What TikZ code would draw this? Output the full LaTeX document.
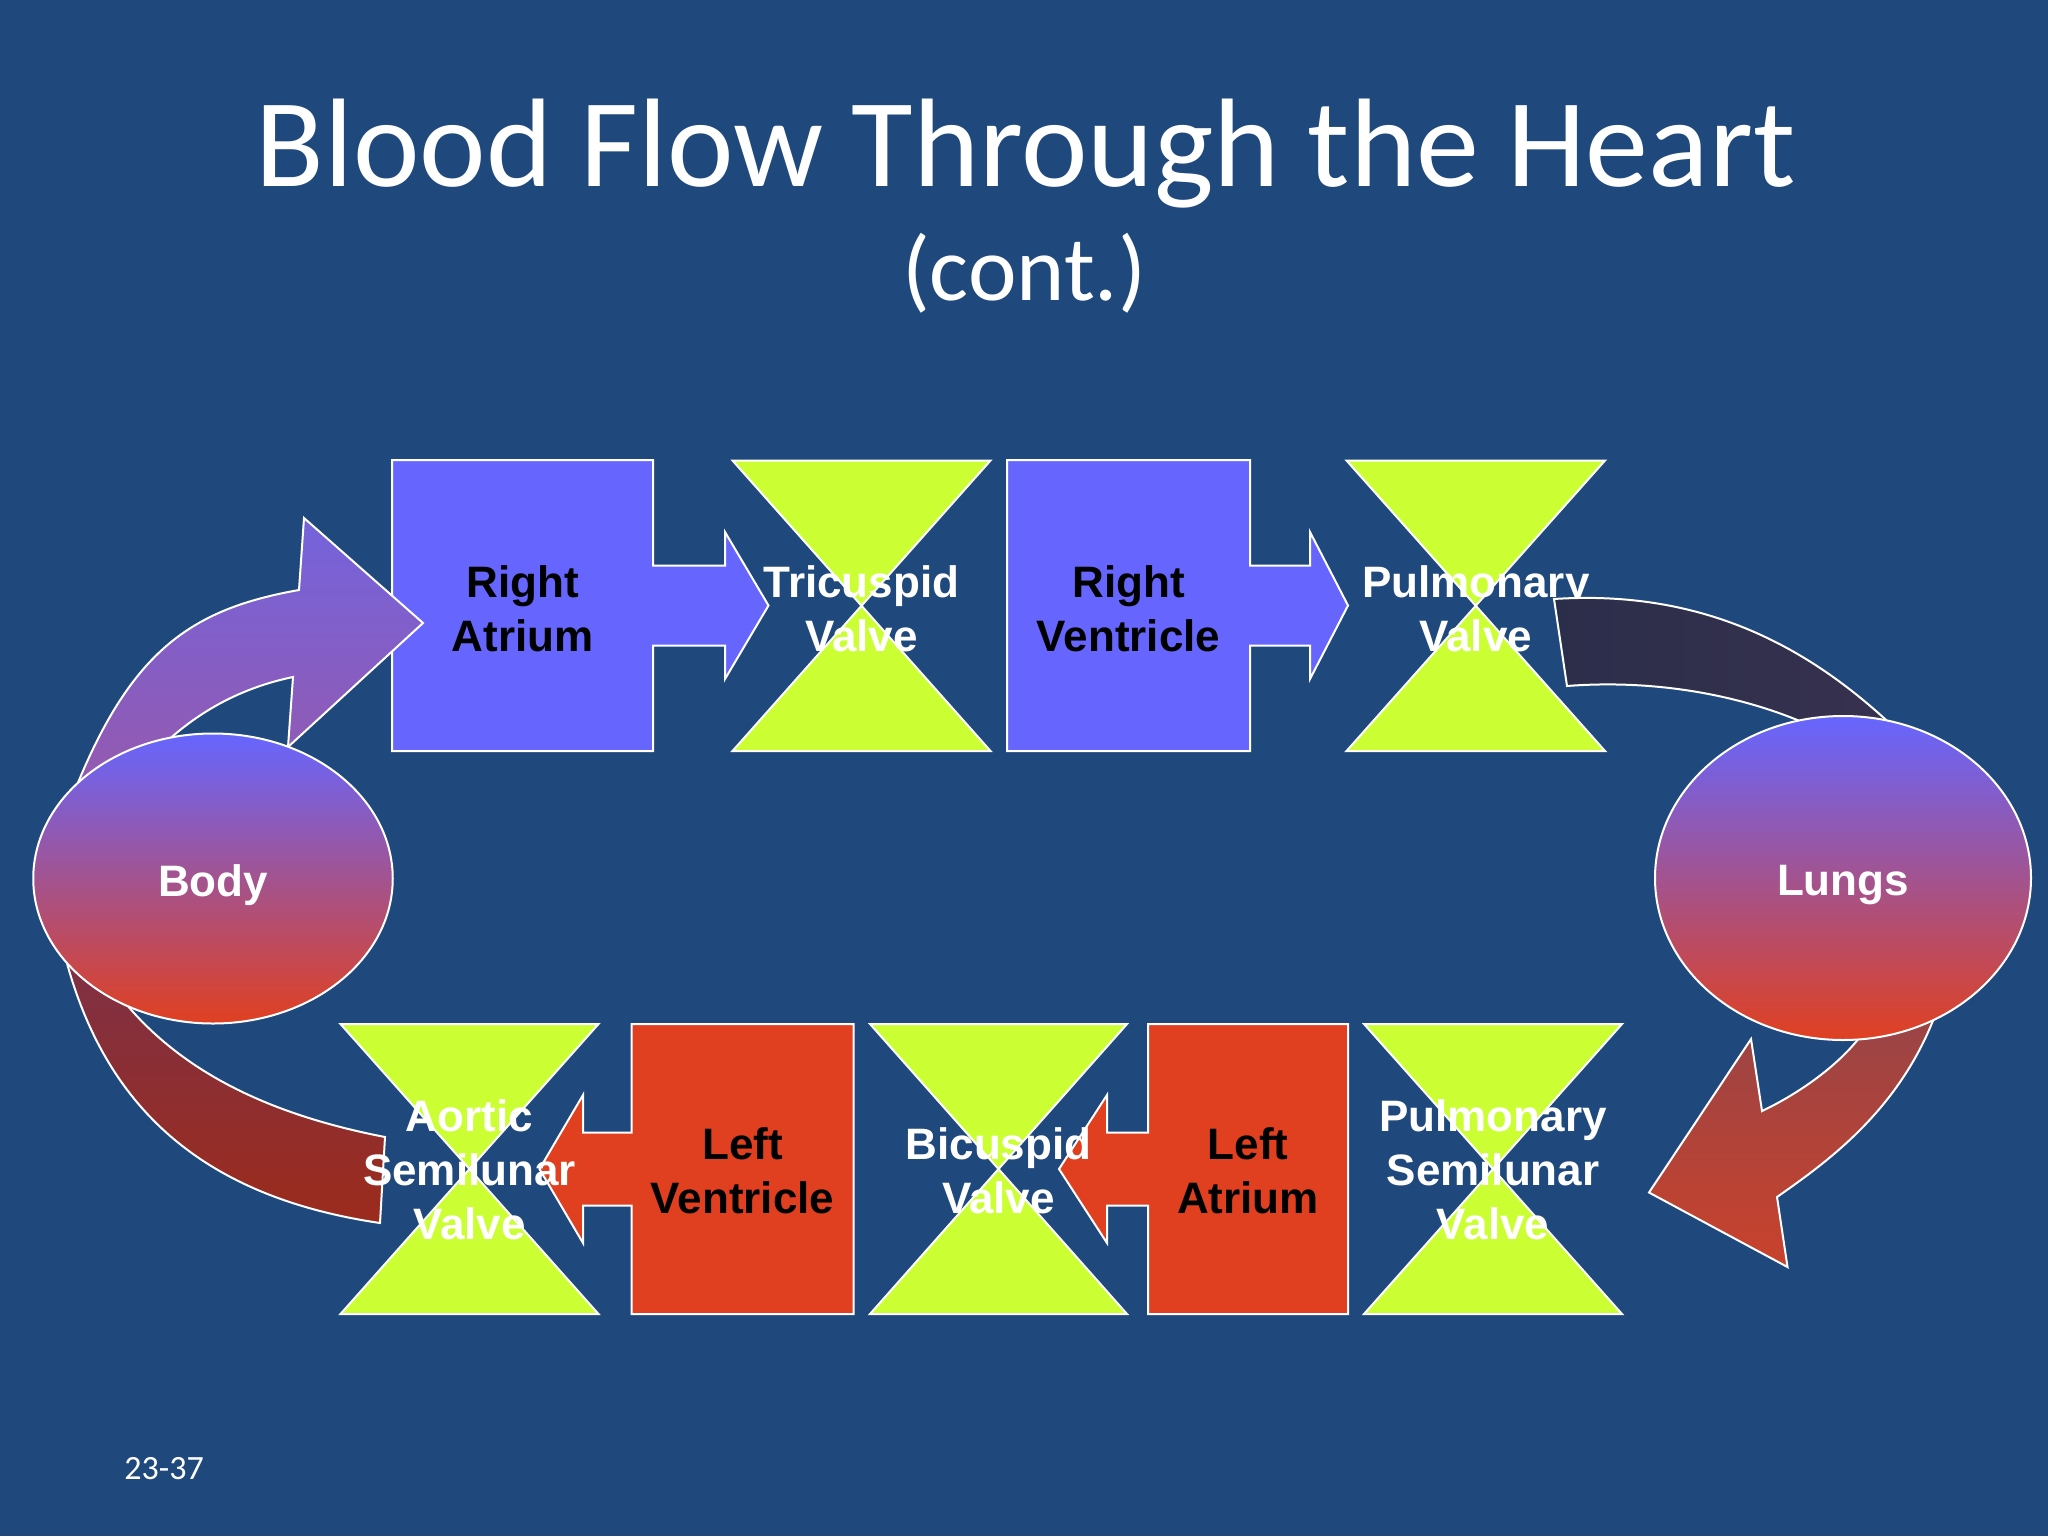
\documentclass[tikz,border=0pt]{standalone}
\usepackage{fontspec}
\setmainfont{Liberation Sans}
\newfontfamily\calibrifont{Carlito}
\usetikzlibrary{shapes.geometric}
\definecolor{bgblue}{HTML}{1F497D}
\definecolor{boxblue}{HTML}{6666FF}
\definecolor{boxred}{HTML}{E04020}
\definecolor{valvegreen}{HTML}{CCFF33}
\definecolor{ovaltop}{HTML}{6666FF}
\definecolor{ovalbot}{HTML}{E04020}
\definecolor{arrAtop}{HTML}{7463DC}
\definecolor{arrAbot}{HTML}{9559AE}
\definecolor{darkL}{HTML}{2B2E4A}
\definecolor{darkR}{HTML}{37314F}
\definecolor{redtop}{HTML}{984447}
\definecolor{redbot}{HTML}{C9422C}
\definecolor{marotop}{HTML}{7C3149}
\definecolor{marobot}{HTML}{9C2B1C}
\newcommand\myLblFont{\fontsize{22pt}{27pt}\selectfont\bfseries}
\newcommand\twoL[2]{\begin{tabular}[t]{@{}c@{}}#1\\#2\end{tabular}}
\newcommand\threeL[3]{\begin{tabular}[t]{@{}c@{}}#1\\#2\\#3\end{tabular}}
\newcommand\myValve[4]{%
  \draw[valvestyle] (#1,#3) -- (#2,#3) -- ({(#1+#2)/2},{(#3+#4)/2}) -- cycle
                    (#1,#4) -- (#2,#4) -- ({(#1+#2)/2},{(#3+#4)/2}) -- cycle;}
\begin{document}
\begin{tikzpicture}[x=0.5pt,y=-0.5pt,
  outl/.style={draw=white, line width=1pt, line join=miter},
  bluebox/.style={outl, fill=boxblue},
  redbox/.style={outl, fill=boxred},
  valvestyle/.style={outl, fill=valvegreen},
  lbl/.style={font=\myLblFont, inner sep=0pt, anchor=base, text=black},
  wlbl/.style={lbl, text=white},
  oval/.style={ellipse, outl, top color=ovaltop, bottom color=ovalbot, inner sep=0pt,
               font=\myLblFont, text=white, text height=17.5pt, text depth=0pt}]
\useasboundingbox (0,0) rectangle (2048,1536);
\fill[bgblue] (0,0) rectangle (2048,1536);

% --- top row ---
\draw[bluebox] (392,460) -- (653,460) -- (653,565.5) -- (725,565.5) -- (725,532) -- (768.5,605.5)
  -- (725,679) -- (725,645.5) -- (653,645.5) -- (653,751) -- (392,751) -- cycle;
\myValve{732.5}{990.5}{460.5}{751}
\draw[bluebox] (1007,460) -- (1250,460) -- (1250,565.5) -- (1310,565.5) -- (1310,532) -- (1348,605.5)
  -- (1310,679) -- (1310,645.5) -- (1250,645.5) -- (1250,751) -- (1007,751) -- cycle;
\myValve{1346.5}{1605}{460.5}{751}

% --- bottom row ---
\myValve{340.5}{598.5}{1024}{1314}
\draw[redbox] (853.5,1024) -- (853.5,1314) -- (631.5,1314) -- (631.5,1205.5) -- (583,1205.5) -- (583,1243)
  -- (539.5,1169) -- (583,1095) -- (583,1132.5) -- (631.5,1132.5) -- (631.5,1024) -- cycle;
\myValve{870}{1127}{1024}{1314}
\draw[redbox] (1348,1024) -- (1348,1314) -- (1148,1314) -- (1148,1205.5) -- (1107,1205.5) -- (1107,1243)
  -- (1059,1169) -- (1107,1095) -- (1107,1132.5) -- (1148,1132.5) -- (1148,1024) -- cycle;
\myValve{1364}{1622}{1024}{1314}

% aortic -> body band
\draw[outl, top color=marotop, bottom color=marobot]
  (385,1137) -- (380,1223) .. controls (190,1195) and (95,1095) .. (60,935)
  -- (115,990) .. controls (175,1070) and (267.4,1114.2) .. (385,1137) -- cycle;

% --- labels ---
\node[lbl]  (ra)  at (522.5,597)  {\twoL{Right}{Atrium}};
\node[wlbl] (tv)  at (861.5,597)  {\twoL{Tricuspid}{Valve}};
\node[lbl]  (rv)  at (1128.5,597) {\twoL{Right}{Ventricle}};
\node[wlbl] (pv)  at (1475.75,597) {\twoL{Pulmonary}{Valve}};
\node[wlbl] (asv) at (469.5,1131.5) {\threeL{Aortic}{Semilunar}{Valve}};
\node[lbl]  (lv)  at (742.5,1159.5) {\twoL{Left}{Ventricle}};
\node[wlbl] (bv)  at (998.5,1159.5) {\twoL{Bicuspid}{Valve}};
\node[lbl]  (la)  at (1248,1159.5)  {\twoL{Left}{Atrium}};
\node[wlbl] (psv) at (1493,1131.5)  {\threeL{Pulmonary}{Semilunar}{Valve}};

% body -> right atrium curved arrow
\draw[outl, top color=arrAtop, bottom color=arrAbot]
  (75,790) .. controls (131,651) and (191,609) .. (299,590) -- (304,518) -- (423,623)
  -- (288,747) -- (293,677) .. controls (245,687) and (195,710) .. (150,758) -- cycle;

% pulmonary valve -> lungs band
\draw[outl, left color=darkL, right color=darkR]
  (1554,599) .. controls (1720,588) and (1826,662) .. (1900,733)
  -- (1820,730) .. controls (1748,695.6) and (1657,679) .. (1567,686) -- cycle;

% lungs -> pulmonary semilunar valve arrow
\draw[outl, top color=redtop, bottom color=redbot]
  (1937,1010) .. controls (1901,1110) and (1826,1162.5) .. (1777,1197)
  -- (1787.5,1267) -- (1649,1192.5) -- (1751,1039) -- (1762,1111)
  .. controls (1798,1094) and (1847.5,1061) .. (1870,1022) -- cycle;

% --- ovals ---
\node[oval, minimum width=179.75pt, minimum height=145pt] (body) at (213,878.5) {Body};
\node[oval, minimum width=188pt, minimum height=162pt] (lungs) at (1843,878) {Lungs};

% --- title ---
\node[font=\calibrifont\fontsize{63pt}{70pt}\selectfont, text=white, anchor=base, inner sep=0pt]
  (title) at (1025.8,186) {Blood Flow Through the Heart};
\node[font=\calibrifont\fontsize{46pt}{52pt}\selectfont, text=white, anchor=base, inner sep=0pt]
  (subtitle) at (1024,300) {(cont.)};
\node[font=\calibrifont\fontsize{17pt}{20pt}\selectfont, text=white, anchor=base west, inner sep=0pt]
  (pagenum) at (124,1479) {23-37};
\end{tikzpicture}
\end{document}
